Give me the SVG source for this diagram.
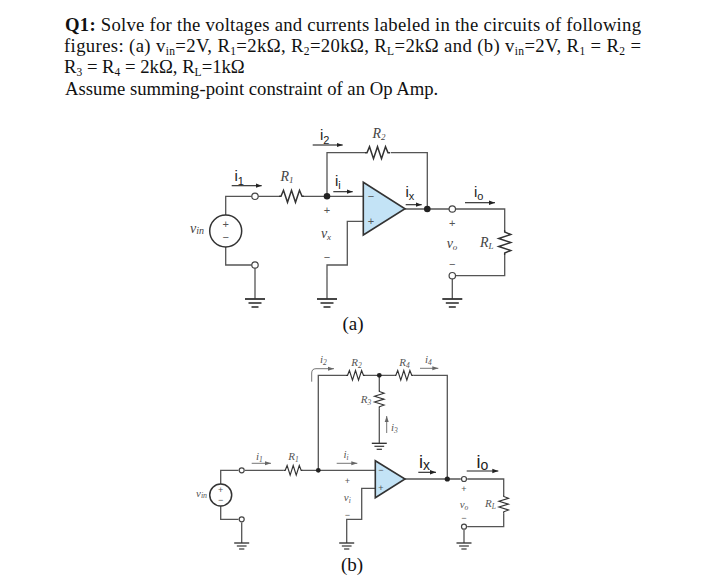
<svg xmlns="http://www.w3.org/2000/svg" width="719" height="585" viewBox="0 0 719 585">
<style>
.w{fill:none;stroke:#555;stroke-width:1.3}
.c{fill:#fff;stroke:#444;stroke-width:1.200}
.d{fill:#222}
.op{fill:#c3e3f6;stroke:#333;stroke-width:1.600}
.src{fill:#fff;stroke:#333;stroke-width:1.500}
.a{fill:none;stroke:#222;stroke-width:1.100;marker-end:url(#ah)}
.ag{fill:none;stroke:#666;stroke-width:.9;marker-end:url(#ag)}
.t{font-family:"Liberation Serif",serif;font-size:18.7px;fill:#111}
.s{font-size:11.5px}
.i{font-family:"Liberation Sans",sans-serif;fill:#222;font-size:15px}
.is{font-size:11px}
.ib{font-family:"Liberation Sans",sans-serif;fill:#222;font-size:18px}
.ibs{font-size:14px}
.v{font-family:"Liberation Serif",serif;font-style:italic;fill:#444;font-size:14px}
.v2{font-family:"Liberation Serif",serif;font-style:italic;fill:#555;font-size:11px}
.p{font-family:"Liberation Sans",sans-serif;fill:#555;font-size:11px;text-anchor:middle}
.p2{font-family:"Liberation Sans",sans-serif;fill:#555;font-size:9px;text-anchor:middle}
.m{text-anchor:middle}
.cap{font-family:"Liberation Serif",serif;font-size:19px;fill:#111;text-anchor:middle}
</style>
<defs>
<marker id="ah" markerWidth="7" markerHeight="6" refX="6" refY="3" orient="auto" markerUnits="userSpaceOnUse"><path d="M0 .8L6 3L0 5.2z" fill="#222"/></marker>
<marker id="ag" markerWidth="7" markerHeight="6" refX="6" refY="3" orient="auto" markerUnits="userSpaceOnUse"><path d="M0 1L6 3L0 5z" fill="#666"/></marker>
<g id="gnd"><path d="M-10 0H10" stroke="#333" stroke-width="1.800"/><path d="M-6.500 4H6.500" stroke="#333" stroke-width="1.600"/><path d="M-3.500 8H3.500" stroke="#333" stroke-width="1.600"/></g>
<path id="r" d="M0 0L2 0L4.500-6L8.500 6L12.500-6L16.500 6L20.500-6L23 0L25 0" fill="none" stroke="#333" stroke-width="1.500"/>
</defs>
<rect width="719" height="585" fill="#fff"/>
<g id="question">
<text class="t" x="65" y="31" textLength="576"><tspan font-weight="bold">Q1:</tspan> Solve for the voltages and currents labeled in the circuits of following</text>
<text class="t" x="64" y="52" textLength="577">figures: (a) v<tspan class="s" dy="3">in</tspan><tspan dy="-3">=2V, R</tspan><tspan class="s" dy="3">1</tspan><tspan dy="-3">=2kΩ, R</tspan><tspan class="s" dy="3">2</tspan><tspan dy="-3">=20kΩ, R</tspan><tspan class="s" dy="3">L</tspan><tspan dy="-3">=2kΩ and (b) v</tspan><tspan class="s" dy="3">in</tspan><tspan dy="-3">=2V, R</tspan><tspan class="s" dy="3">1</tspan><tspan dy="-3"> = R</tspan><tspan class="s" dy="3">2</tspan><tspan dy="-3"> =</tspan></text>
<text class="t" x="64" y="73">R<tspan class="s" dy="3">3</tspan><tspan dy="-3"> = R</tspan><tspan class="s" dy="3">4</tspan><tspan dy="-3"> = 2kΩ, R</tspan><tspan class="s" dy="3">L</tspan><tspan dy="-3">=1kΩ</tspan></text>
<text class="t" x="65" y="95">Assume summing-point constraint of an Op Amp.</text>
</g>
<g id="connectors">
<path class="w" d="M225.700 215V196.300H251.800M258.200 196.300H279M304 196.300H363.300M327 196.300V152.700H365M390.700 152.700H427.300V209M405 209H449M455.500 209H504.700V230M504.700 255V275.700H455.500M452.300 279V299M225.700 247V265H251.800M255 268V299M327 299V265H347.300V221.300H363.300"/>
<path class="w" d="M220.700 484V470.300H238.500M245 470.300H283.700M302.300 470.300H375.300M318.300 470.300V375.300H346M365 375.300H394.300M413.300 375.300H447.300V479M405 479H460.800M467.200 479H503.700V495M503.700 513.300V526.700H467.200M464 530V543M220.700 506V519.300H238.500M241.700 522.500V543M379.300 375.300V390M379.300 408.300V443M346.700 543V519.300H361.700V488.300H375.300"/>
<path class="a" d="M231.700 185.700H261.700"/><path class="a" d="M312.700 145H342.700"/><path class="a" d="M333.300 191.700H352.700"/><path class="a" d="M405.700 204.700H421.700"/><path class="a" d="M465 202.700H495"/>
<path class="ag" d="M311.700 381.700V373Q311.700 368.700 316 368.700H334"/><path class="ag" d="M420 368.300H438.300"/><path class="ag" d="M386.700 433V416"/><path class="ag" d="M251.700 463.300H271"/><path class="ag" d="M336.700 463.300H357.300"/>
<path class="a" d="M418.300 472.300H436"/><path class="a" d="M466.700 471H498.300"/>
</g>
<g id="vin-a"><circle class="src" cx="225.700" cy="231" r="16"/><text class="p" x="225.700" y="228">+</text><text class="p" x="225.700" y="241">−</text><text class="v" x="190" y="233">v<tspan font-size="10" dy="1">in</tspan></text></g>
<g id="r1-a"><use href="#r" x="279" y="196.300"/><text class="v m" x="287" y="181">R<tspan font-size="9" dy="2">1</tspan></text></g>
<g id="r2-a"><use href="#r" x="365" y="152.700"/><text class="v m" x="379" y="138">R<tspan font-size="9" dy="2">2</tspan></text></g>
<g id="opamp-a"><path class="op" d="M363.300 182.300V235L405 208.700z"/><text class="p" x="371" y="200">−</text><text class="p" x="371" y="225">+</text></g>
<g id="rl-a"><use href="#r" transform="translate(504.700 230) rotate(90)"/><text class="v" x="480" y="247">R<tspan font-size="9" dy="2">L</tspan></text></g>
<g id="terminals-a"><circle class="c" cx="255" cy="196.300" r="3.200"/><circle class="c" cx="255" cy="265" r="3.200"/><circle class="c" cx="452.300" cy="209" r="3.200"/><circle class="c" cx="452.300" cy="275.700" r="3.200"/><circle class="d" cx="327" cy="196.300" r="3.300"/><circle class="d" cx="427.300" cy="209" r="3.300"/></g>
<g id="grounds-a"><use href="#gnd" x="255" y="299"/><use href="#gnd" x="327" y="299"/><use href="#gnd" x="452.300" y="299"/></g>
<g id="labels-a">
<text class="i" x="234.500" y="181">i<tspan class="is" dy="4">1</tspan></text><text class="i" x="320" y="140">i<tspan class="is" dy="4">2</tspan></text><text class="i" x="335" y="186">i<tspan class="is" dy="3">i</tspan></text><text class="i" x="405.500" y="197">i<tspan class="is" dy="3">x</tspan></text><text class="i" x="474" y="197">i<tspan class="is" dy="3">o</tspan></text>
<text class="p" x="327" y="214">+</text><text class="v m" x="326" y="238">v<tspan font-size="9" dy="2">x</tspan></text><text class="p" x="327" y="261">−</text>
<text class="p" x="452.300" y="226.500">+</text><text class="v m" x="452" y="248">v<tspan font-size="9" dy="2">o</tspan></text><text class="p" x="452.300" y="268">−</text>
<text class="cap" x="353" y="330">(a)</text></g>
<g id="vin-b"><circle class="src" cx="220.700" cy="495" r="11"/><text class="p2" x="220.700" y="493">+</text><text class="p2" x="220.700" y="503">−</text><text class="v2" x="196" y="497">v<tspan font-size="8" dy="1">in</tspan></text></g>
<g id="r1-b"><use href="#r" transform="translate(283.700 470.300) scale(.76 .8)"/><text class="v2 m" x="293.500" y="460">R<tspan font-size="7.500" dy="2">1</tspan></text></g>
<g id="r2-b"><use href="#r" transform="translate(346 375.300) scale(.76 .8)"/><text class="v2 m" x="356.500" y="366">R<tspan font-size="7.500" dy="2">2</tspan></text></g>
<g id="r4-b"><use href="#r" transform="translate(394.300 375.300) scale(.76 .8)"/><text class="v2 m" x="404.500" y="366">R<tspan font-size="7.500" dy="2">4</tspan></text></g>
<g id="r3-b"><use href="#r" transform="translate(379.300 390) rotate(90) scale(.73 .8)"/><text class="v2 m" x="366" y="403">R<tspan font-size="7.500" dy="2">3</tspan></text></g>
<g id="opamp-b"><path class="op" d="M375.300 460.700V497.700L405 479z"/><text class="p2" x="381" y="473">−</text><text class="p2" x="381" y="491">+</text></g>
<g id="rl-b"><use href="#r" transform="translate(503.700 495) rotate(90) scale(.73 .8)"/><text class="v2" x="485" y="507">R<tspan font-size="7.500" dy="2">L</tspan></text></g>
<g id="terminals-b"><circle class="c" cx="241.700" cy="470.300" r="2.500"/><circle class="c" cx="241.700" cy="519.300" r="2.500"/><circle class="c" cx="464" cy="479" r="2.500"/><circle class="c" cx="464" cy="526.700" r="2.500"/><circle class="d" cx="318.300" cy="470.300" r="2.400"/><circle class="d" cx="379.300" cy="375.300" r="2.400"/><circle class="d" cx="447.300" cy="479" r="2.600"/></g>
<g id="grounds-b"><use href="#gnd" transform="translate(241.700 543) scale(.75)"/><use href="#gnd" transform="translate(346.700 543) scale(.75)"/><use href="#gnd" transform="translate(464 543) scale(.75)"/><use href="#gnd" transform="translate(379.300 443.300) scale(.75)"/></g>
<g id="labels-b">
<text class="v2" x="320" y="363">i<tspan font-size="7.500" dy="2">2</tspan></text><text class="v2" x="425" y="363">i<tspan font-size="7.500" dy="2">4</tspan></text><text class="v2" x="391" y="431">i<tspan font-size="7.500" dy="2">3</tspan></text><text class="v2" x="256" y="460">i<tspan font-size="7.500" dy="2">1</tspan></text><text class="v2" x="343.500" y="458">i<tspan font-size="7.500" dy="2">i</tspan></text>
<text class="p2" x="347.300" y="484">+</text><text class="v2 m" x="347.300" y="501">v<tspan font-size="7.500" dy="2">i</tspan></text><text class="p2" x="347.300" y="517.500">−</text>
<text class="p2" x="464" y="492">+</text><text class="v2 m" x="464" y="508">v<tspan font-size="7.500" dy="2">o</tspan></text><text class="p2" x="464" y="521">−</text>
<text class="ib" x="419" y="468">i<tspan class="ibs" dy="2">x</tspan></text><text class="ib" x="476.500" y="468">i<tspan class="ibs" dy="2">o</tspan></text>
<text class="cap" x="352" y="571">(b)</text></g>
</svg>
